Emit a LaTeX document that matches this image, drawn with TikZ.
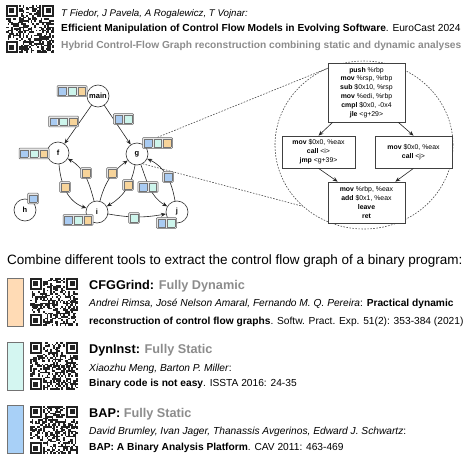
\documentclass[tikz,border=0pt]{standalone}
\usepackage{fontspec}
\setmainfont{Liberation Sans}
\usetikzlibrary{arrows.meta,positioning,backgrounds,shapes.geometric}
\definecolor{cB}{HTML}{A9CBF2}
\definecolor{cC}{HTML}{CDF5EC}
\definecolor{cO}{HTML}{F7D49A}
\definecolor{barB}{HTML}{A8D0F7}
\definecolor{barC}{HTML}{D4F6F1}
\definecolor{barO}{HTML}{FFDBB5}
\definecolor{cGr}{HTML}{8C8C8C}
\definecolor{cInk}{HTML}{222222}
\tikzset{
  gnode/.style={circle,draw=black!80,fill=white,line width=.6pt,minimum size=22pt,
                inner sep=0pt,font=\bfseries\fontsize{7.5}{8}\selectfont},
  tag/.style={draw=black!60,fill=black!10,rounded corners=1pt,inner sep=1.4pt,line width=.5pt},
  garrow/.style={-{Stealth[length=5pt,width=4pt]},draw=black!85,line width=.6pt},
  asmbox/.style={draw=black!75,fill=white,line width=.7pt,align=center,inner sep=2pt,
                 font=\fontsize{6.9}{8.9}\selectfont},
  zoomline/.style={draw=black!70,line width=.6pt,dash pattern=on 1.6pt off 1.4pt},
  txt/.style={anchor=base west,inner sep=0pt},
  body/.style={txt,font=\fontsize{10.2}{12}\selectfont},
  ttl/.style={txt,font=\bfseries\fontsize{12.7}{15}\selectfont},
  bar/.style={draw=black!55,line width=.6pt,minimum width=16pt,minimum height=48pt,inner sep=0pt},
}
\setlength{\fboxsep}{0pt}
\setlength{\fboxrule}{.4pt}
\newcommand{\sq}[1]{\fcolorbox{black!55}{#1}{\rule{0pt}{7.2pt}\rule{7.2pt}{0pt}}}
\newcommand{\sg}{\hspace{1.6pt}}
\newcommand{\tBCO}{\sq{cB}\sg\sq{cC}\sg\sq{cO}}
\newcommand{\tBC}{\sq{cB}\sg\sq{cC}}
\newcommand{\mn}[1]{\textbf{#1}}
\def\qm{1.655}
% fake qr code, 29x29 modules
\newcommand{\qrcode}[3]{%
  \begin{scope}[shift={(#1,#2)}]
    \pgfmathsetseed{#3}
    \foreach \qrow in {0,...,28}{
      \foreach \qcol in {0,...,28}{
        \pgfmathrandominteger{\bit}{0}{1}
        \ifnum\bit=1 \fill[cInk] (\qcol*\qm,-\qrow*\qm) rectangle ++(\qm,-\qm);\fi
      }
    }
    \foreach \fx/\fy/\wx/\wy in {0/0/0/0,22/0/21/0,0/22/0/21}{
      \fill[white] (\wx*\qm,-\wy*\qm) rectangle ++(8*\qm,-8*\qm);
      \fill[cInk] (\fx*\qm,-\fy*\qm) rectangle ++(7*\qm,-7*\qm);
      \fill[white] (\fx*\qm+\qm,-\fy*\qm-\qm) rectangle ++(5*\qm,-5*\qm);
      \fill[cInk] (\fx*\qm+2*\qm,-\fy*\qm-2*\qm) rectangle ++(3*\qm,-3*\qm);
    }
  \end{scope}}

\begin{document}
\begin{tikzpicture}[x=1pt,y=1pt]
  \useasboundingbox (0,0) rectangle (474,-460);
  % header
  \qrcode{6}{-5}{7}
  \node[txt,font=\itshape\fontsize{9.7}{11}\selectfont] (hdrAuth) at (61,-16.5)
    {T Fiedor, J Pavela, A Rogalewicz, T Vojnar:};
  \node[body] (hdrTitle) at (61,-31.7)
    {\textbf{Efficient Manipulation of Control Flow Models in Evolving Software}. EuroCast 2024};
  \node[body,font=\bfseries\fontsize{10.2}{12}\selectfont,text=cGr] (hdrSub) at (61,-48.7)
    {Hybrid Control-Flow Graph reconstruction combining static and dynamic analyses};

  % call graph
  \node[gnode] (main) at (98,-96) {main};
  \node[gnode] (f) at (58,-153) {f};
  \node[gnode] (g) at (137,-154) {g};
  \node[gnode] (h) at (25,-210) {h};
  \node[gnode] (i) at (97,-212) {i};
  \node[gnode] (j) at (177,-212) {j};
  % tags of nodes and edges
  \node[tag] (tMain) at (72,-91) {\tBCO};
  \node[tag] (tF) at (34,-153.5) {\tBCO};
  \node[tag] (tG) at (157.5,-143) {\tBCO};
  \node[tag] (tH) at (33,-198.5) {\sq{cB}};
  \node[tag] (tI) at (78,-220) {\tBCO};
  \node[tag] (tJ) at (166.5,-223) {\tBC};
  \node[tag] (tMF) at (63.5,-121.5) {\tBCO};
  \node[tag] (tMG) at (123.5,-119) {\tBC};
  \node[tag] (tFI) at (65,-187) {\sq{cO}};
  \node[tag] (tIF) at (86,-173) {\sq{cO}};
  \node[tag] (tIG) at (112,-173) {\sq{cO}};
  \node[tag] (tGI) at (128,-185) {\sq{cO}};
  \node[tag] (tGJ) at (148,-187) {\tBC};
  \node[tag] (tJG) at (168,-177) {\sq{cB}};
  \node[tag] (tIJ) at (134,-218) {\sq{cC}};

  % zoom into g
  \node[ellipse,zoomline,minimum width=178pt,minimum height=168pt] (zoomC) at (364,-145) {};
  \node[asmbox,minimum width=77pt,minimum height=59pt] (bTop) at (366.5,-92.5)
    {\mn{push} \%rbp\\ \mn{mov} \%rsp, \%rbp\\ \mn{sub} \$0x10, \%rsp\\
     \mn{mov} \%edi, \%rbp\\ \mn{cmpl} \$0x0, -0x4\\ \mn{jle} <g+29>};
  \node[asmbox,minimum width=73pt,minimum height=32pt] (bLeft) at (318.5,-152)
    {\mn{mov} \$0x0, \%eax\\ \mn{call} <i>\\ \mn{jmp} <g+39>};
  \node[asmbox,minimum width=77pt,minimum height=32pt] (bRight) at (413.5,-152)
    {\mn{mov} \$0x0, \%eax\\ \mn{call} <j>};
  \node[asmbox,minimum width=77pt,minimum height=41pt] (bBot) at (366.5,-202.5)
    {\mn{mov} \%rbp, \%eax\\ \mn{add} \$0x1, \%eax\\ \mn{leave}\\ \mn{ret}};
  \draw[garrow] ([xshift=5pt]bTop.south west) -- (bLeft.north);
  \draw[garrow] ([xshift=-7pt]bTop.south east) -- (bRight.north);
  \draw[garrow] (bLeft.south) -- ([xshift=10pt]bBot.north west);
  \draw[garrow] (bRight.south) -- ([xshift=-10pt]bBot.north east);

  \begin{scope}[on background layer]
    \draw[zoomline] (tG.north) -- (zoomC.110);
    \draw[zoomline] (g.-60) -- (zoomC.225);
    \draw[garrow] (main) -- (f);
    \draw[garrow] (main) -- (g);
    \draw[garrow] (f) to[out=-85,in=160] (i);
    \draw[garrow] (i) to[out=105,in=-30] (f);
    \draw[garrow] (i) to[out=75,in=-145] (g);
    \draw[garrow] (g) to[out=-100,in=30] (i);
    \draw[garrow] (g) to[out=-70,in=150] (j);
    \draw[garrow] (j) to[out=100,in=-25] (g);
    \draw[garrow] (i) to[out=-10,in=190] (j);
  \end{scope}

  % tools
  \node[txt,font=\fontsize{13.5}{16}\selectfont] (intro) at (7,-264.9)
    {Combine different tools to extract the control flow graph of a binary program:};

  \node[bar,fill=barO] (barCfg) at (15,-302) {};
  \qrcode{30}{-278}{21}
  \node[ttl] (cfgName) at (89,-289.6) {CFGGrind: \textcolor{cGr}{Fully Dynamic}};
  \node[body] (cfgAuth) at (89,-306.7)
    {\textit{Andrei Rimsa, José Nelson Amaral, Fernando M. Q. Pereira}: \textbf{Practical dynamic}};
  \node[body] (cfgRef) at (89,-324.7)
    {\textbf{reconstruction of control flow graphs}. Softw. Pract. Exp. 51(2): 353-384 (2021)};

  \node[bar,fill=barC] (barDyn) at (15,-366) {};
  \qrcode{30}{-342}{33}
  \node[ttl] (dynName) at (89,-353.6) {DynInst: \textcolor{cGr}{Fully Static}};
  \node[body] (dynAuth) at (89,-371.7) {\textit{Xiaozhu Meng, Barton P. Miller}:};
  \node[body] (dynRef) at (89,-386.7) {\textbf{Binary code is not easy}. ISSTA 2016: 24-35};

  \node[bar,fill=barB] (barBap) at (15,-429.5) {};
  \qrcode{30}{-406}{45}
  \node[ttl] (bapName) at (89,-417.6) {BAP: \textcolor{cGr}{Fully Static}};
  \node[body] (bapAuth) at (89,-434.7)
    {\textit{David Brumley, Ivan Jager, Thanassis Avgerinos, Edward J. Schwartz}:};
  \node[body] (bapRef) at (89,-450.7) {\textbf{BAP: A Binary Analysis Platform}. CAV 2011: 463-469};
\end{tikzpicture}
\end{document}
